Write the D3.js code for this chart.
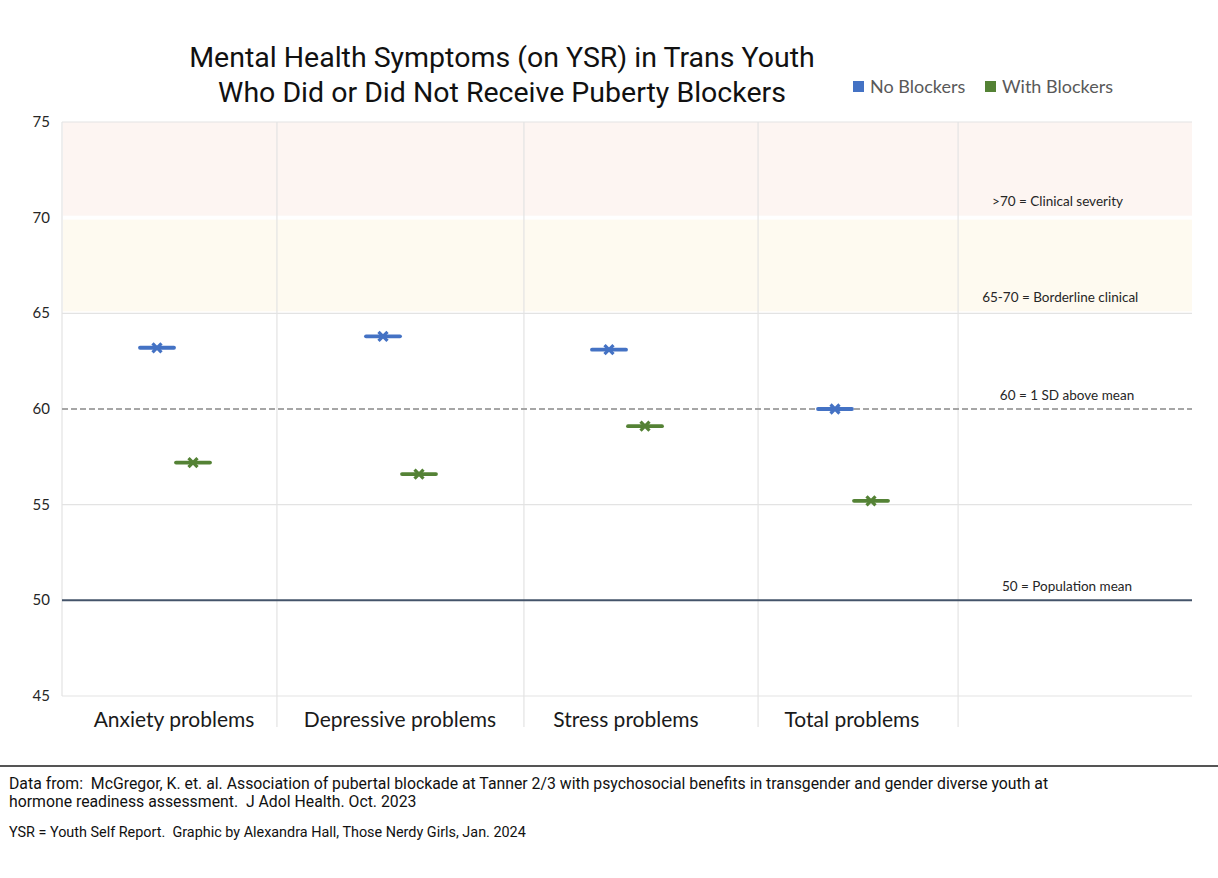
<!DOCTYPE html>
<html>
<head>
<meta charset="utf-8">
<script src="https://cdn.jsdelivr.net/npm/d3@7"></script>
<style>
  body { margin: 0; background: #fff; }
  svg { display: block; }
  text { white-space: pre; }
</style>
</head>
<body>
<svg id="chart"></svg>
<script>
// data
const categories = ["Anxiety problems", "Depressive problems", "Stress problems", "Total problems"];
const seriesNames = ["No Blockers", "With Blockers"];
const noBlockers = [63.2, 63.8, 63.1, 60.0];
const withBlockers = [57.2, 56.6, 59.1, 55.2];
const yTicks = [45, 50, 55, 60, 65, 70, 75];
const colors = ["#4472C4", "#548235"];
// reference lines / shaded zones (in score units)
const zones = [
  { from: 70, to: 75, fill: "#FDF5F2", label: ">70 = Clinical severity", at: 70.6, cx: 4.405 },
  { from: 65, to: 70, fill: "#FEFAF0", label: "65-70 = Borderline clinical", at: 65.6, cx: 4.417 }
];
const refLines = [
  { value: 60, label: "60 = 1 SD above mean", at: 60.45, cx: 4.447 },
  { value: 50, label: "50 = Population mean", at: 50.5, cx: 4.447 }
];
// column dividers, in category units (hand-placed in the original)
const dividers = [0.951, 2.044, 3.08, 3.965];

const W = 1218, H = 878;
const margin = { left: 62, right: 26, top: 122, bottom: 182 };

const svg = d3.select("#chart").attr("width", W).attr("height", H)
  .style("font-family", "Lato, 'Open Sans', sans-serif");

const x = d3.scaleLinear().domain([0, 5]).range([margin.left, W - margin.right]);
const xCat = d3.scaleBand().domain(categories.concat([""])).range([margin.left, W - margin.right]);
const xSeries = d3.scalePoint().domain(seriesNames).range([-18, 18]);
const y = d3.scaleLinear().domain([45, 75]).range([H - margin.bottom, margin.top]);

// shaded zones
svg.selectAll("rect.zone").data(zones).enter().append("rect")
  .attr("class", "zone")
  .attr("x", x(0) + 1)
  .attr("width", x(5) - x(0) - 1)
  .attr("y", d => y(d.to) + (d.to === 75 ? 0 : 2))
  .attr("height", d => y(d.from) - y(d.to) - (d.to === 75 ? 2 : 4))
  .attr("fill", d => d.fill);

// horizontal gridlines
svg.selectAll("line.hgrid").data(yTicks.filter(t => t !== 50 && t !== 60)).enter().append("line")
  .attr("x1", x(0)).attr("x2", x(5))
  .attr("y1", d => y(d)).attr("y2", d => y(d))
  .attr("stroke", d => (d === 70 ? "#ffffff" : "#e3e3e3"))
  .attr("stroke-width", 1.2);

// vertical lines
svg.append("line")
  .attr("x1", x(0)).attr("x2", x(0))
  .attr("y1", y(75)).attr("y2", y(45))
  .attr("stroke", "#e3e3e3").attr("stroke-width", 1.2);
svg.selectAll("line.vdiv").data(dividers).enter().append("line")
  .attr("x1", d => x(d)).attr("x2", d => x(d))
  .attr("y1", y(75)).attr("y2", y(45) + 31)
  .attr("stroke", "#e3e3e3").attr("stroke-width", 1.2);

// reference lines
svg.append("line")
  .attr("x1", x(0)).attr("x2", x(5))
  .attr("y1", y(60)).attr("y2", y(60))
  .attr("stroke", "#a6a6a6").attr("stroke-width", 2)
  .attr("stroke-dasharray", "6,3");
svg.append("line")
  .attr("x1", x(0)).attr("x2", x(5))
  .attr("y1", y(50)).attr("y2", y(50))
  .attr("stroke", "#44546A").attr("stroke-width", 2);

// annotations
svg.selectAll("text.annot").data(zones.concat(refLines)).enter().append("text")
  .attr("x", d => x(d.cx))
  .attr("y", d => y(d.at))
  .attr("text-anchor", "middle")
  .attr("font-size", 13.5)
  .attr("fill", "#262626")
  .text(d => d.label);

// y axis labels
svg.selectAll("text.ytick").data(yTicks).enter().append("text")
  .attr("x", 50)
  .attr("y", d => y(d) + 5)
  .attr("text-anchor", "end")
  .attr("font-size", 15)
  .attr("fill", "#262626")
  .text(d => d);

// category labels
svg.selectAll("text.cat").data(categories).enter().append("text")
  .attr("x", d => xCat(d) + xCat.bandwidth() / 2 - 1)
  .attr("y", y(45) + 31)
  .attr("text-anchor", "middle")
  .attr("font-size", 21)
  .attr("fill", "#1a1a1a")
  .text(d => d);

// markers: dash with an x on top
const points = [];
categories.forEach((c, i) => {
  points.push({ cat: c, s: seriesNames[0], v: noBlockers[i], color: colors[0] });
  points.push({ cat: c, s: seriesNames[1], v: withBlockers[i], color: colors[1] });
});
const mk = svg.selectAll("g.mk").data(points).enter().append("g")
  .attr("transform", d => `translate(${xCat(d.cat) + xCat.bandwidth() / 2 + xSeries(d.s)},${y(d.v)})`);
mk.append("line")
  .attr("x1", -17).attr("x2", 17)
  .attr("stroke", d => d.color).attr("stroke-width", 3.8)
  .attr("stroke-linecap", "round");
mk.append("path")
  .attr("d", "M-4.5,-4.5L4.5,4.5M-4.5,4.5L4.5,-4.5")
  .attr("stroke", d => d.color).attr("stroke-width", 3.2)
  .attr("fill", "none");

// title
svg.append("text")
  .attr("x", 502).attr("y", 67)
  .attr("text-anchor", "middle")
  .attr("font-family", "Roboto, sans-serif")
  .attr("font-size", 28.5)
  .attr("fill", "#111")
  .selectAll("tspan")
  .data(["Mental Health Symptoms (on YSR) in Trans Youth", "Who Did or Did Not Receive Puberty Blockers"])
  .enter().append("tspan")
  .attr("x", 502)
  .attr("dy", (d, i) => (i === 0 ? 0 : 35))
  .text(d => d);

// legend
const legend = svg.selectAll("g.leg").data(seriesNames).enter().append("g")
  .attr("transform", (d, i) => `translate(${[853, 985][i]},81)`);
legend.append("rect")
  .attr("width", 11).attr("height", 11)
  .attr("fill", (d, i) => colors[i]);
legend.append("text")
  .attr("x", 17).attr("y", 12)
  .attr("font-size", 18)
  .attr("fill", "#595959")
  .text(d => d);

// footer
svg.append("line")
  .attr("x1", 0).attr("x2", W)
  .attr("y1", 766).attr("y2", 766)
  .attr("stroke", "#555").attr("stroke-width", 2);
const footer = [
  { t: "Data from:  McGregor, K. et. al. Association of pubertal blockade at Tanner 2/3 with psychosocial benefits in transgender and gender diverse youth at", y: 789, s: 15.8 },
  { t: "hormone readiness assessment.  J Adol Health. Oct. 2023", y: 807, s: 15.8 },
  { t: "YSR = Youth Self Report.  Graphic by Alexandra Hall, Those Nerdy Girls, Jan. 2024", y: 837, s: 14.4 }
];
svg.selectAll("text.foot").data(footer).enter().append("text")
  .attr("x", 9).attr("y", d => d.y)
  .attr("font-family", "Roboto, sans-serif")
  .attr("font-size", d => d.s)
  .attr("fill", "#111")
  .text(d => d.t);
</script>
</body>
</html>
